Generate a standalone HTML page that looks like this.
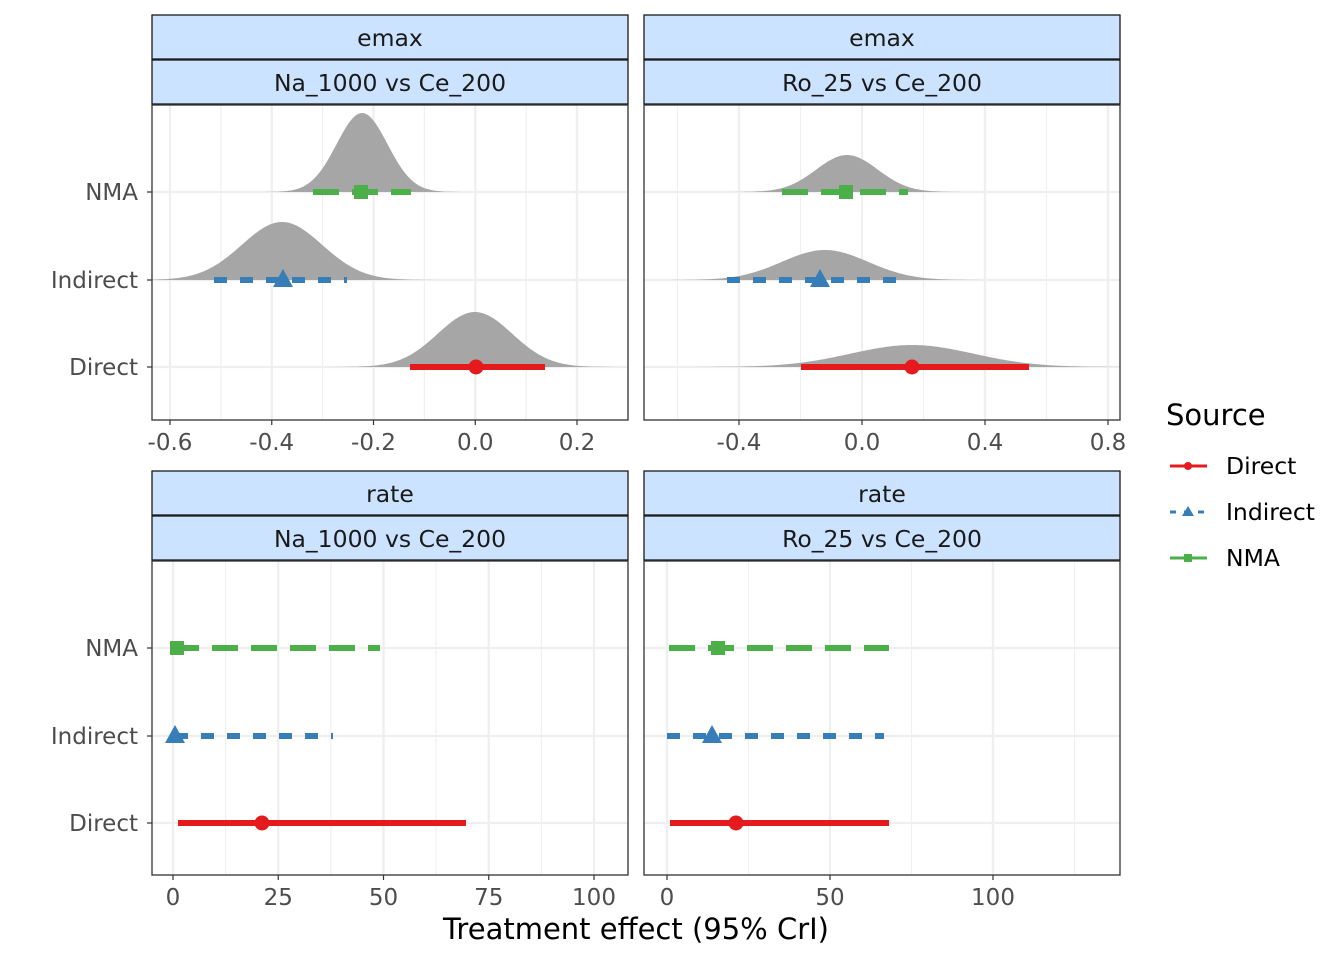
<!DOCTYPE html>
<html><head><meta charset="utf-8"><style>
html,body{margin:0;padding:0;background:#fff;}
text{font-family:"DejaVu Sans","Liberation Sans",sans-serif;}
</style></head><body>
<svg id="s" width="1344" height="960" xmlns="http://www.w3.org/2000/svg"></svg>
<script>
const s=document.getElementById('s');let h='';
const R='#e41a1c',B='#377eb8',G='#4daf4a';
const ys=[192,280,367];
function panel(x0,x1,y0,y1,t1,t2,majors,minors,ticks,labels,sx){
  h+=`<rect x="${x0}" y="${y0}" width="${x1-x0}" height="44" fill="#cce3ff" stroke="#1a1a1a" stroke-width="1.3"/>`;
  h+=`<rect x="${x0}" y="${y0+45}" width="${x1-x0}" height="44" fill="#cce3ff" stroke="#1a1a1a" stroke-width="1.3"/>`;
  const cx=(x0+x1)/2;
  h+=`<text x="${cx}" y="${y0+31}" font-size="23.5" text-anchor="middle" fill="#1a1a1a">${t1}</text>`;
  h+=`<text x="${cx}" y="${y0+76}" font-size="23.5" text-anchor="middle" fill="#1a1a1a">${t2}</text>`;
  const py0=y0+90,py1=y1;
  h+=`<rect x="${x0}" y="${py0}" width="${x1-x0}" height="${py1-py0}" fill="#fff"/>`;
  minors.forEach(v=>{const x=sx(v);if(x>x0&&x<x1)h+=`<line x1="${x}" x2="${x}" y1="${py0}" y2="${py1}" stroke="#f0f0f0" stroke-width="1.2"/>`;});
  majors.forEach(v=>{const x=sx(v);if(x>x0&&x<x1)h+=`<line x1="${x}" x2="${x}" y1="${py0}" y2="${py1}" stroke="#efefef" stroke-width="2.3"/>`;});
  const dy=py0-105;
  ys.forEach(y=>{h+=`<line x1="${x0}" x2="${x1}" y1="${y+dy}" y2="${y+dy}" stroke="#efefef" stroke-width="2.3"/>`;});
  ticks.forEach((v,i)=>{const x=sx(v);h+=`<line x1="${x}" x2="${x}" y1="${py1}" y2="${py1+5}" stroke="#333" stroke-width="1.2"/><text x="${x}" y="${py1+30}" font-size="23" text-anchor="middle" fill="#4d4d4d">${labels[i]}</text>`;});
  if(x0<200){['NMA','Indirect','Direct'].forEach((l,i)=>{h+=`<line x1="${x0-5}" x2="${x0}" y1="${ys[i]+dy}" y2="${ys[i]+dy}" stroke="#333" stroke-width="1.2"/><text x="${x0-14}" y="${ys[i]+dy+8}" font-size="23" text-anchor="end" fill="#4d4d4d">${l}</text>`;});}
  return dy;
}
function dens(mx,sdpx,top,base,clip0,clip1){
  let p=`M${Math.max(clip0,mx-4*sdpx)},${base}`;
  for(let x=Math.max(clip0,mx-4*sdpx);x<=Math.min(clip1,mx+4*sdpx);x+=2){
    const d=Math.exp(-0.5*((x-mx)/sdpx)**2);p+=` L${x.toFixed(1)},${(base-(base-top)*d).toFixed(1)}`;}
  p+=` L${Math.min(clip1,mx+4*sdpx)},${base} Z`;
  h+=`<path d="${p}" fill="#a6a6a6"/>`;
}
function seg(a,b,y,c,dash){h+=`<line x1="${a}" x2="${b}" y1="${y}" y2="${y}" stroke="${c}" stroke-width="6" ${dash?`stroke-dasharray="${dash}"`:''}/>`;}
function pt(x,y,type){
  if(type==0)h+=`<circle cx="${x}" cy="${y}" r="7.5" fill="${R}"/>`;
  else if(type==1)h+=`<polygon points="${x},${y-11} ${x+10},${y+7} ${x-10},${y+7}" fill="${B}"/>`;
  else h+=`<rect x="${x-7}" y="${y-7}" width="14" height="14" fill="${G}"/>`;
}
function border(x0,y0,x1,y1){h+=`<rect x="${x0}" y="${y0}" width="${x1-x0}" height="${y1-y0}" fill="none" stroke="#333" stroke-width="1.3"/>`;}
let sx=v=>475.25+v*508.75;
panel(152,628,15,420,'emax','Na_1000 vs Ce_200',[-0.6,-0.4,-0.2,0,0.2],[-0.5,-0.3,-0.1,0.1,-0.7,0.3],[-0.6,-0.4,-0.2,0,0.2],['-0.6','-0.4','-0.2','0.0','0.2'],sx);
dens(362,0.05*508.75,113,192,152,628);dens(282,0.079*508.75,222,280,152,628);dens(475,0.073*508.75,312,367,152,628);
seg(313,411,192,G,'26 13');pt(361,192,2);
seg(214,347,280,B,'13 13');pt(283,280,1);
seg(410,545,367,R);pt(476,367,0);
border(152,105,628,420);
sx=v=>862+v*307.5;
panel(644,1120,15,420,'emax','Ro_25 vs Ce_200',[-0.4,0,0.4,0.8],[-0.6,-0.2,0.2,0.6],[-0.4,0,0.4,0.8],['-0.4','0.0','0.4','0.8'],sx);
dens(847,0.1*307.5,155,192,644,1120);dens(825,0.14*307.5,250,280,644,1120);dens(912,0.2*307.5,345,367,644,1120);
seg(782,908,192,G,'26 13');pt(846,192,2);
seg(727,898,280,B,'13 13');pt(820,280,1);
seg(801,1029,367,R);pt(912,367,0);
border(644,105,1120,420);
sx=v=>173+v*4.21;
let dy=panel(152,628,471,875,'rate','Na_1000 vs Ce_200',[0,25,50,75,100],[12.5,37.5,62.5,87.5,112.5],[0,25,50,75,100],['0','25','50','75','100'],sx);
seg(173,380,192+dy,G,'26 13');pt(177,192+dy,2);
seg(175,333,280+dy,B,'13 13');pt(175,280+dy,1);
seg(178,466,367+dy,R);pt(262,367+dy,0);
border(152,561,628,875);
sx=v=>667+v*3.26;
panel(644,1120,471,875,'rate','Ro_25 vs Ce_200',[0,50,100],[25,75,125],[0,50,100],['0','50','100'],sx);
seg(669,889,192+dy,G,'26 13');pt(718,192+dy,2);
seg(667,884,280+dy,B,'13 13');pt(712,280+dy,1);
seg(670,889,367+dy,R);pt(736,367+dy,0);
border(644,561,1120,875);
h+=`<text x="636" y="939" font-size="29" text-anchor="middle" fill="#000">Treatment effect (95% CrI)</text>`;
h+=`<text x="1166" y="425" font-size="29" fill="#000">Source</text>`;
[[R,'',0,'Direct',466],[B,'6 8',1,'Indirect',512],[G,'',2,'NMA',558]].forEach(([c,d,t,l,y])=>{
  h+=`<line x1="1170" x2="1207" y1="${y}" y2="${y}" stroke="${c}" stroke-width="3" ${d?`stroke-dasharray="${d}"`:''}/>`;
  if(t==0)h+=`<circle cx="1188" cy="${y}" r="4" fill="${c}"/>`;
  else if(t==1)h+=`<polygon points="1188,${y-6} 1194,${y+4} 1182,${y+4}" fill="${c}"/>`;
  else h+=`<rect x="1184" y="${y-4}" width="8" height="8" fill="${c}"/>`;
  h+=`<text x="1226" y="${y+8}" font-size="23.5" fill="#000">${l}</text>`;
});
s.innerHTML=h;
</script>
</body></html>
